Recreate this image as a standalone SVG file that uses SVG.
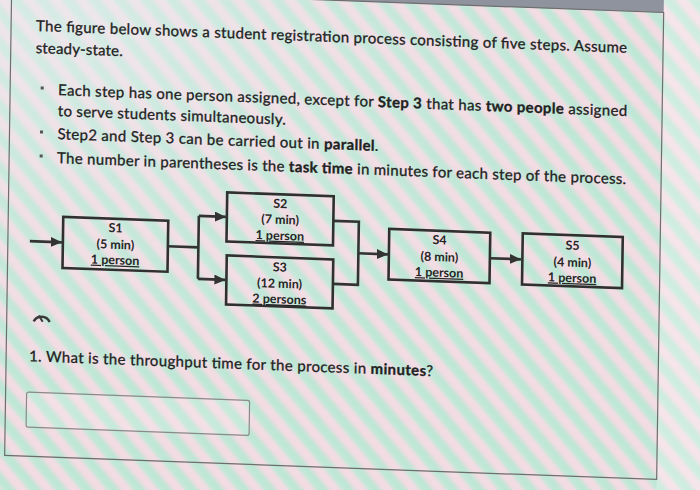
<svg xmlns="http://www.w3.org/2000/svg" width="700" height="490" viewBox="0 0 700 490">
<defs>
<linearGradient id="sg" x1="0" y1="0" x2="1" y2="0">
<stop offset="0" stop-color="#f4dbe3"/>
<stop offset="0.25" stop-color="#f1dde3"/>
<stop offset="0.45" stop-color="#c2e8d8"/>
<stop offset="0.7" stop-color="#bde6d5"/>
<stop offset="1" stop-color="#f4dbe3"/>
</linearGradient>
<pattern id="stripes" width="20" height="40" patternUnits="userSpaceOnUse" patternTransform="rotate(-40)">
<rect width="20" height="40" fill="url(#sg)"/>
</pattern>
<radialGradient id="wash" cx="0.1" cy="0.05" r="0.75">
<stop offset="0" stop-color="#e8eef0" stop-opacity="0.6"/>
<stop offset="0.5" stop-color="#e8eef0" stop-opacity="0.2"/>
<stop offset="1" stop-color="#e8eef0" stop-opacity="0"/>
</radialGradient>
<marker id="arr" markerUnits="userSpaceOnUse" markerWidth="12" markerHeight="10" refX="11" refY="5" orient="auto">
<path d="M0,0 L11,5 L0,10 z" fill="#333333"/>
</marker>
<style>
.t{font-family:Lato,"Noto Sans",sans-serif;font-size:15px;fill:#222;stroke:#222;stroke-width:0.3}
.b{font-weight:700}
.n{font-family:Lato,"Noto Sans",sans-serif;font-size:12.5px;font-weight:700;fill:#262626;text-anchor:middle}
.u{text-decoration:underline}
.box{fill:none;stroke:#303030;stroke-width:2.6}
.c{fill:none;stroke:#333333;stroke-width:2.6}
.bul{fill:#555}
</style>
</defs>
<rect width="700" height="490" fill="url(#stripes)"/>
<rect width="700" height="490" fill="url(#wash)"/>
<g transform="matrix(1 0.037 -0.015 1 3.675 -12.95)">
<rect x="660" y="-40" width="80" height="560" fill="#ffffff" opacity="0.25"/>
<rect x="-30" y="-40" width="690" height="41" fill="#8e939d"/>
<rect x="8" y="1" width="652" height="467" fill="none" stroke="#6e6e6e" stroke-width="1.2"/>

<g id="text">
<text class="t" x="33" y="42.7" textLength="591" lengthAdjust="spacing">The figure below shows a student registration process consisting of five steps. Assume</text>
<text class="t" x="33" y="64.7" textLength="87" lengthAdjust="spacing">steady-state.</text>
<rect class="bul" x="38.5" y="98" width="3" height="3"/>
<text class="t" x="56" y="106" textLength="569" lengthAdjust="spacing">Each step has one person assigned, except for <tspan class="b">Step 3</tspan> that has <tspan class="b">two people</tspan> assigned</text>
<text class="t" x="56" y="127" textLength="228" lengthAdjust="spacing">to serve students simultaneously.</text>
<rect class="bul" x="38.5" y="142" width="3" height="3"/>
<text class="t" x="56" y="150" textLength="321" lengthAdjust="spacing">Step2 and Step 3 can be carried out in <tspan class="b">parallel</tspan>.</text>
<rect class="bul" x="38.5" y="166" width="3" height="3"/>
<text class="t" x="56" y="174" textLength="569" lengthAdjust="spacing">The number in parentheses is the <tspan class="b">task time</tspan> in minutes for each step of the process.</text>
<text class="t" x="31" y="373" textLength="404" lengthAdjust="spacing">1. What is the throughput time for the process in <tspan class="b">minutes</tspan>?</text>
</g>

<g id="icon" transform="translate(43 329)">
<path d="M-8,4 A9,9 0 0 1 8,4" fill="none" stroke="#3a3a3a" stroke-width="2.6"/>
<path d="M-3,-2 L1,4" fill="none" stroke="#3a3a3a" stroke-width="2"/>
</g>

<g id="answer">
<rect x="29" y="404" width="223" height="35" rx="2" fill="#ffffff" fill-opacity="0.12" stroke="#8a8a8a" stroke-width="1.2"/>
</g>

<g id="connectors">
<path class="c" d="M30,253 L62,253" marker-end="url(#arr)"/>
<path class="c" d="M168,253 L198.5,253"/>
<path class="c" d="M198.5,221.5 L198.5,284.5"/>
<path class="c" d="M198.5,221.5 L225.5,221.5" marker-end="url(#arr)"/>
<path class="c" d="M198.5,284.5 L226,284.5" marker-end="url(#arr)"/>
<path class="c" d="M333,221.5 L358.5,221.5 L358.5,284.5 L334,284.5"/>
<path class="c" d="M358.5,253 L388,253" marker-end="url(#arr)"/>
<path class="c" d="M490,253 L521,253" marker-end="url(#arr)"/>
</g>

<g id="S1">
<rect class="box" x="63" y="227.5" width="105" height="51"/>
<text class="n" x="115.5" y="241">S1</text>
<text class="n" x="115.5" y="257.5">(5 min)</text>
<text class="n u" x="115.5" y="273">1 person</text>
</g>
<g id="S2">
<rect class="box" x="226.5" y="197" width="106.5" height="49"/>
<text class="n" x="279.75" y="210.5">S2</text>
<text class="n" x="279.75" y="226.5">(7 min)</text>
<text class="n u" x="279.75" y="242.5">1 person</text>
</g>
<g id="S3">
<rect class="box" x="227" y="260" width="106.5" height="49"/>
<text class="n" x="280.25" y="274">S3</text>
<text class="n" x="280.25" y="290.5">(12 min)</text>
<text class="n u" x="280.25" y="306">2 persons</text>
</g>
<g id="S4">
<rect class="box" x="389" y="227.5" width="101" height="50.5"/>
<text class="n" x="439.5" y="241">S4</text>
<text class="n" x="439.5" y="258">(8 min)</text>
<text class="n u" x="439.5" y="273.5">1 person</text>
</g>
<g id="S5">
<rect class="box" x="522.5" y="227" width="100" height="51"/>
<text class="n" x="572.5" y="241.5">S5</text>
<text class="n" x="572.5" y="258.5">(4 min)</text>
<text class="n u" x="572.5" y="274">1 person</text>
</g>
</g>
</svg>
